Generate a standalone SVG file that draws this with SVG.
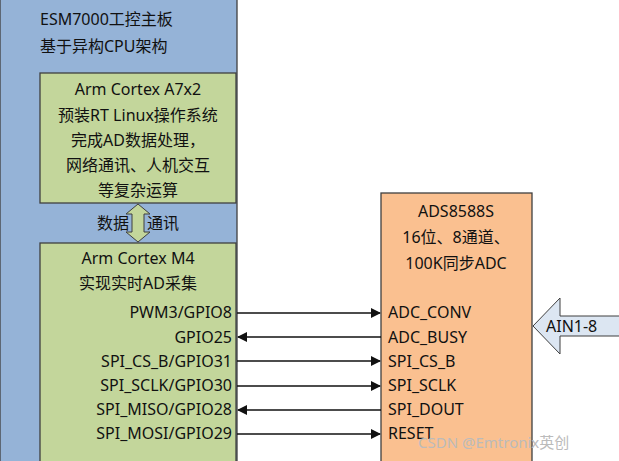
<svg xmlns="http://www.w3.org/2000/svg" width="619" height="461" viewBox="0 0 619 461">
<defs>
<style>
text{font-family:"Noto Sans","Noto Sans CJK SC",sans-serif;font-size:16px;fill:#111}
.c{text-anchor:middle}.r{text-anchor:end}
.box{stroke:#3f3f3f;stroke-width:1.3}
.ln{stroke:#111;stroke-width:1.3;fill:none}
</style>
<marker id="ah" markerWidth="10" markerHeight="10" refX="9" refY="5" orient="auto-start-reverse" markerUnits="userSpaceOnUse"><path d="M0,0 L10,5 L0,10 Z" fill="#111"/></marker>
</defs>
<g id="board"><rect class="box" x="0" y="-2" width="237" height="470" fill="#95b3d7"/>
<text x="40" y="25">ESM7000工控主板</text><text x="40" y="52">基于异构CPU架构</text></g>
<g id="a7"><rect class="box" x="40" y="73" width="196" height="130" fill="#c3d69b"/>
<text class="c" x="138" y="95">Arm Cortex A7x2</text><text class="c" x="138" y="121">预装RT Linux操作系统</text><text class="c" x="138" y="146">完成AD数据处理，</text><text class="c" x="138" y="171">网络通讯、人机交互</text><text class="c" x="138" y="196">等复杂运算</text></g>
<g id="link"><path d="M138,204 L150,214 L144,214 L144,232 L150,232 L138,242 L126,232 L132,232 L132,214 L126,214 Z" fill="#c3d69b" stroke="#3f3f3f"/>
<text class="r" x="129" y="229">数据</text><text x="147" y="229">通讯</text></g>
<g id="m4"><rect class="box" x="40" y="243" width="196" height="225" fill="#c3d69b"/>
<text class="c" x="138" y="264">Arm Cortex M4</text><text class="c" x="138" y="289">实现实时AD采集</text>
<text class="r" x="232" y="318">PWM3/GPIO8</text><text class="r" x="232" y="343">GPIO25</text><text class="r" x="232" y="367">SPI_CS_B/GPIO31</text><text class="r" x="232" y="391">SPI_SCLK/GPIO30</text><text class="r" x="232" y="415">SPI_MISO/GPIO28</text><text class="r" x="232" y="439">SPI_MOSI/GPIO29</text></g>
<g id="ads"><rect class="box" x="381" y="193" width="151" height="275" fill="#fac090"/>
<text class="c" x="456" y="217">ADS8588S</text><text class="c" x="456" y="243">16位、8通道、</text><text class="c" x="456" y="269">100K同步ADC</text>
<text x="388" y="318">ADC_CONV</text><text x="388" y="343">ADC_BUSY</text><text x="388" y="367">SPI_CS_B</text><text x="388" y="391">SPI_SCLK</text><text x="388" y="415">SPI_DOUT</text><text x="388" y="439">RESET</text></g>
<g id="ain"><path d="M533,326 L560,298 L560,316 L622,316 L622,336 L560,336 L560,354 Z" fill="#dce6f2" stroke="#3f3f3f"/>
<text x="546" y="332">AIN1-8</text></g>
<g id="connectors">
<line class="ln" x1="237" y1="313" x2="380" y2="313" marker-end="url(#ah)" stroke="#777"/>
<line class="ln" x1="238" y1="337" x2="381" y2="337" marker-start="url(#ah)"/>
<line class="ln" x1="237" y1="361" x2="380" y2="361" marker-end="url(#ah)" stroke="#777"/>
<line class="ln" x1="237" y1="386" x2="380" y2="386" marker-end="url(#ah)"/>
<line class="ln" x1="238" y1="410" x2="381" y2="410" marker-start="url(#ah)" stroke="#777"/>
<line class="ln" x1="237" y1="434" x2="380" y2="434" marker-end="url(#ah)"/>
</g>
<text x="418" y="448" style="fill:#bbb;font-size:15px">CSDN @Emtronix英创</text>
</svg>
